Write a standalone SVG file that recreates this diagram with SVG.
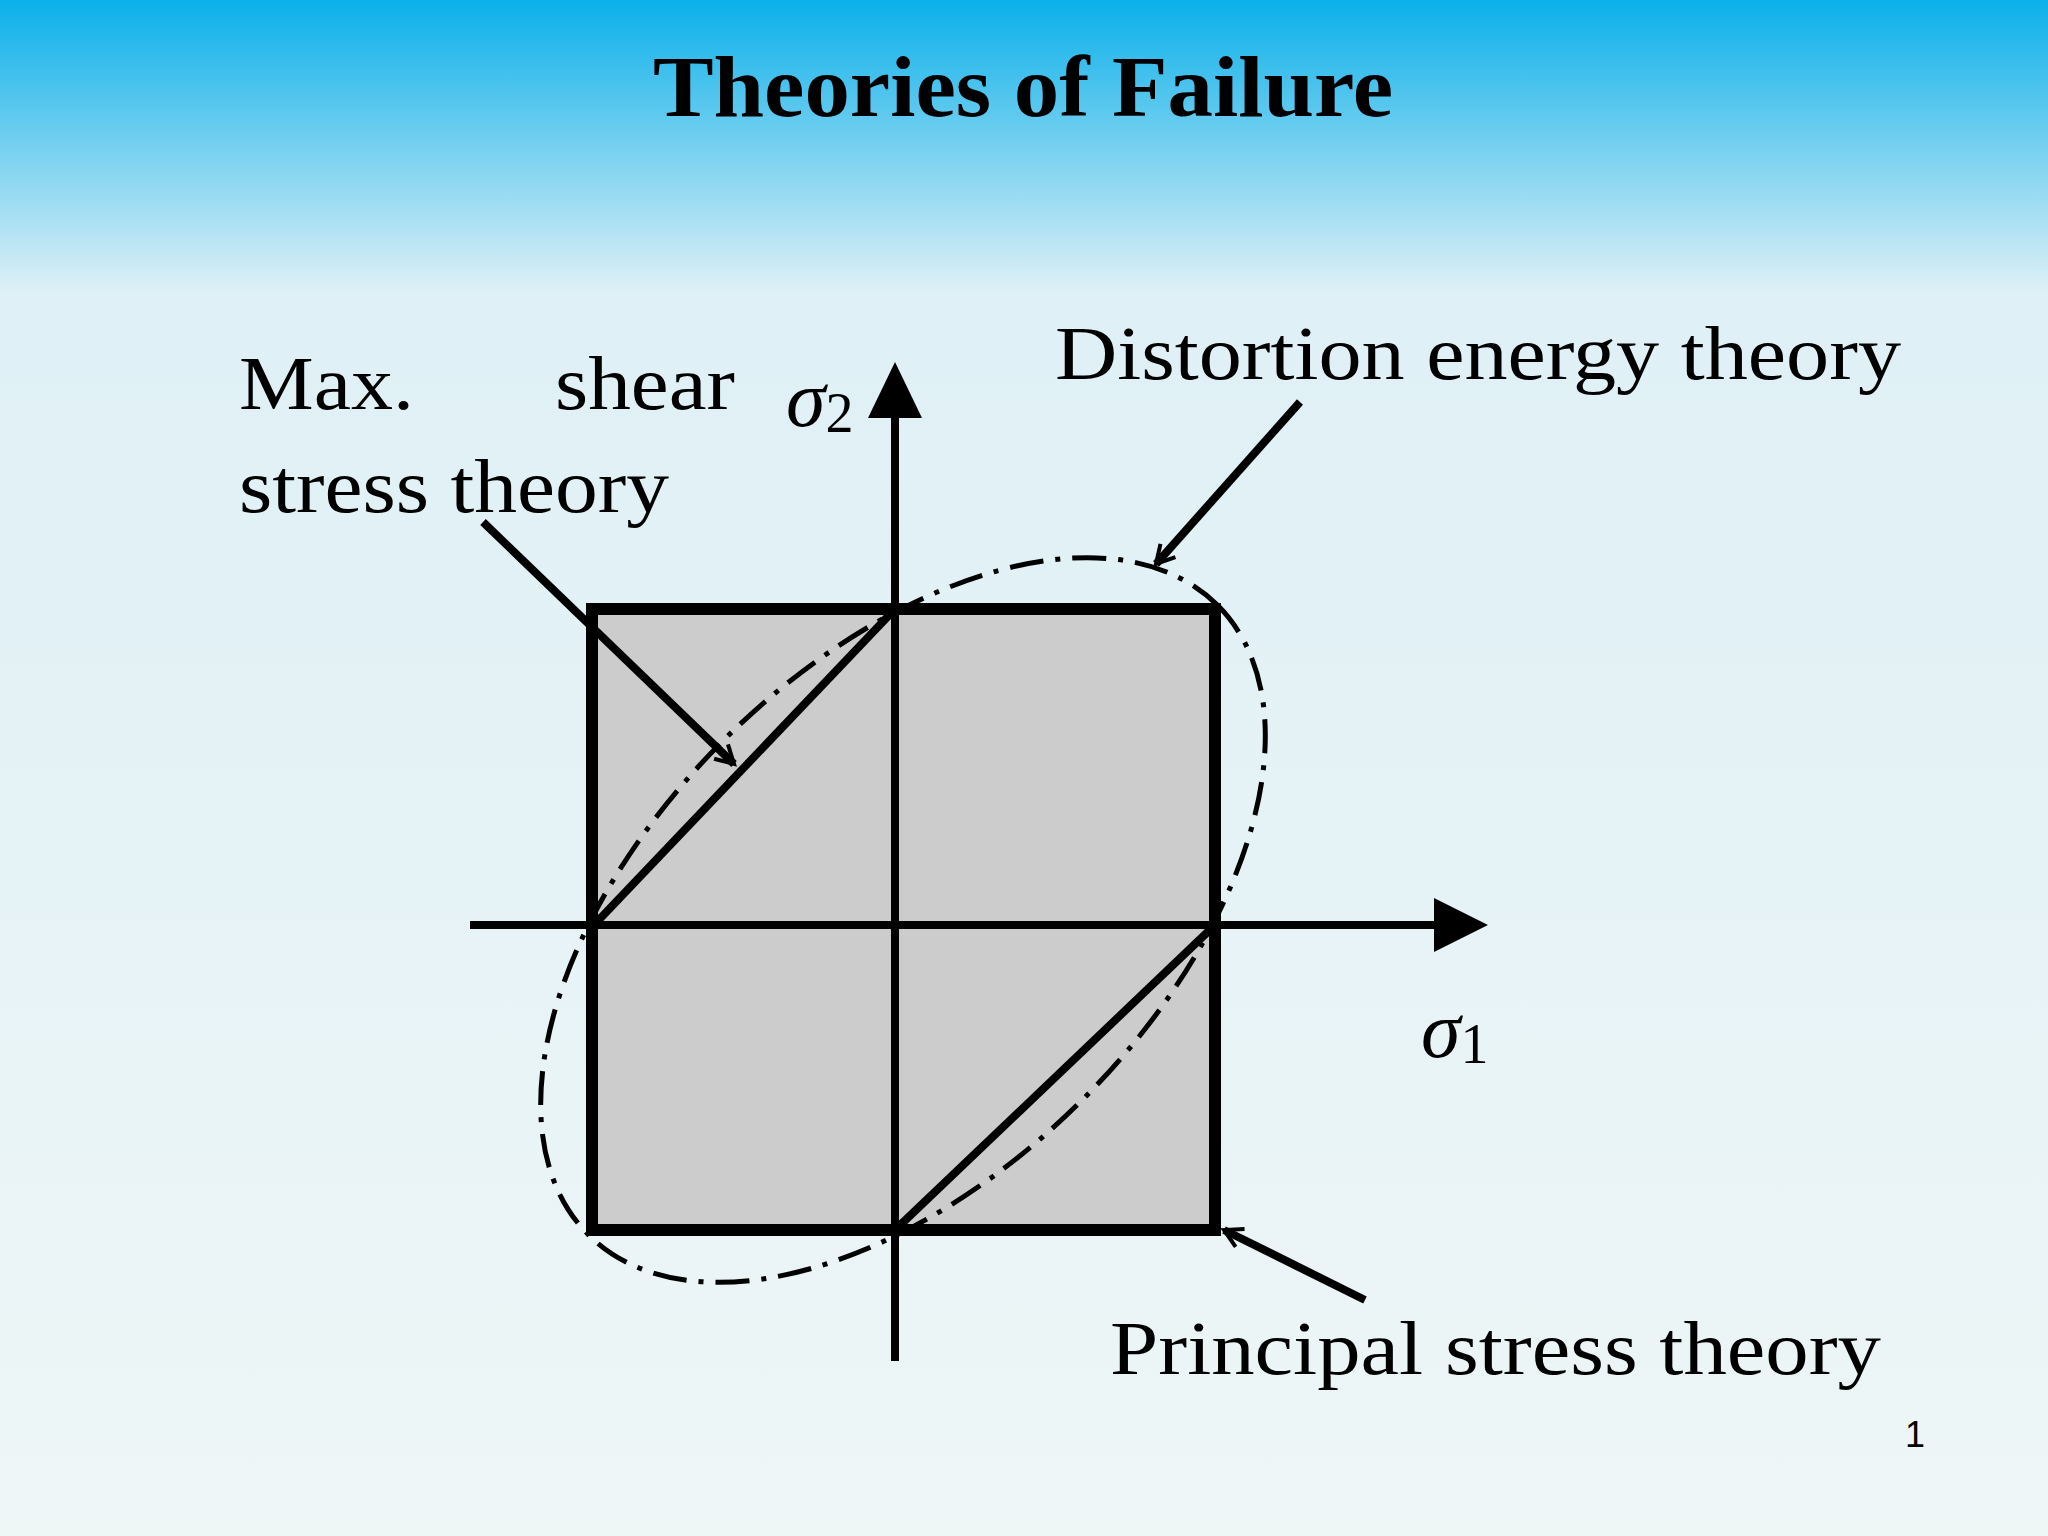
<svg xmlns="http://www.w3.org/2000/svg" width="2048" height="1536" viewBox="0 0 2048 1536">
<defs>
<linearGradient id="bg" x1="0" y1="0" x2="0" y2="1">
<stop offset="0" stop-color="#0bb0ea"/>
<stop offset="0.19" stop-color="#dff0f6"/>
<stop offset="1" stop-color="#eef6f6"/>
</linearGradient>
<marker id="open" markerWidth="24" markerHeight="24" refX="20" refY="12" orient="auto" markerUnits="userSpaceOnUse" viewBox="0 0 24 24">
<path d="M2,2 L20,12 L2,22" fill="none" stroke="#000" stroke-width="4"/>
</marker>
<style>
.t{font-family:"Liberation Serif",serif;fill:#000}
.lbl{font-size:76px}
.ax{stroke:#000;stroke-width:8;fill:none}
.lead{stroke:#000;stroke-width:8;fill:none;marker-end:url(#open)}
</style>
</defs>
<rect width="2048" height="1536" fill="url(#bg)"/>
<text class="t" x="1023" y="116" text-anchor="middle" font-size="86" font-weight="bold" textLength="740" lengthAdjust="spacingAndGlyphs">Theories of Failure</text>
<g id="square"><rect x="592" y="609" width="623" height="621" fill="#cccccc" stroke="#000" stroke-width="12"/></g>
<g id="diagonals">
<line class="ax" x1="594" y1="925" x2="895" y2="609"/>
<line class="ax" x1="895" y1="1230" x2="1215" y2="925"/>
</g>
<g id="ellipse"><ellipse cx="903" cy="920" rx="445" ry="254" transform="rotate(-45 903 920)" fill="none" stroke="#000" stroke-width="5" stroke-dasharray="34 12 5 12"/></g>
<g id="axes">
<line class="ax" x1="895" y1="400" x2="895" y2="1361"/>
<polygon points="895,362 868,418 922,418" fill="#000"/>
<line class="ax" x1="470" y1="925" x2="1440" y2="925"/>
<polygon points="1488,925 1434,898 1434,952" fill="#000"/>
</g>
<g id="connectors">
<line class="lead" x1="483" y1="522" x2="734" y2="764"/>
<line class="lead" x1="1300" y1="402" x2="1156" y2="564"/>
<line class="lead" x1="1365" y1="1300" x2="1224" y2="1230"/>
</g>
<g id="labels">
<text class="t lbl" x="239" y="409" textLength="175" lengthAdjust="spacingAndGlyphs">Max.</text>
<text class="t lbl" x="555" y="409" textLength="180" lengthAdjust="spacingAndGlyphs">shear</text>
<text class="t lbl" x="239" y="512" textLength="430" lengthAdjust="spacingAndGlyphs">stress theory</text>
<text class="t lbl" x="1055" y="379" textLength="846" lengthAdjust="spacingAndGlyphs">Distortion energy theory</text>
<text class="t lbl" x="1110" y="1374" textLength="771" lengthAdjust="spacingAndGlyphs">Principal stress theory</text>
<text class="t" x="786" y="426" font-size="80" font-style="italic">σ<tspan font-size="56" font-style="normal" dy="6">2</tspan></text>
<text class="t" x="1421" y="1057" font-size="80" font-style="italic">σ<tspan font-size="56" font-style="normal" dy="6">1</tspan></text>
</g>
<text x="1905" y="1447" font-family="Liberation Sans,sans-serif" font-size="36">1</text>
</svg>
